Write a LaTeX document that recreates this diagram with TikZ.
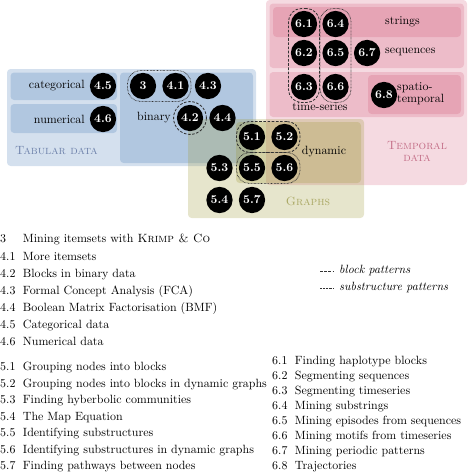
\documentclass[tikz,border=0pt]{standalone}
\usepackage{tikz}
\usetikzlibrary{positioning,fit}
\definecolor{tabBlue}{RGB}{40,100,170}
\definecolor{tempPink}{RGB}{205,70,105}
\definecolor{graphOlive}{RGB}{155,150,50}
\definecolor{tabText}{RGB}{110,130,170}
\definecolor{tempText}{RGB}{195,110,135}
\definecolor{graphText}{RGB}{170,168,100}
\definecolor{darkgray}{RGB}{50,50,50}
\newcommand{\itemline}[2]{\makebox[19pt][l]{#1}#2}

\begin{document}
\begin{tikzpicture}[x=0.837pt, y=-0.837pt,
  area/.style={fill=#1, fill opacity=0.2, rounded corners=3pt},
  num/.style={circle, fill=black, text=white, font=\bfseries,
              minimum size=22pt, inner sep=0pt},
  lbl/.style={inner sep=0pt},
  caption/.style={inner sep=0pt, text=#1, align=center},
  blockline/.style={draw=darkgray, dash pattern=on 2.2pt off 1.3pt, line width=0.7pt},
  subline/.style={draw=darkgray, dash pattern=on 0.5pt off 0.7pt, line width=0.7pt},
  blockpat/.style={blockline, rounded corners=11pt, inner sep=1.8pt},
  subpat/.style={subline, rounded corners=11pt, inner sep=1.8pt},
  listitem/.style={anchor=west, inner sep=0pt, text height=7pt, text depth=2pt},
  node distance=4.8pt
]
\useasboundingbox (0,0) rectangle (474,471);

% tabular data
\fill[area=tabBlue] (7,69) rectangle (256,166);
\fill[area=tabBlue] (10.5,72.5) rectangle (117,100);
\fill[area=tabBlue] (10.5,104) rectangle (117,133);
\fill[area=tabBlue] (120,72.5) rectangle (253,163);
\node[lbl, anchor=east] (catlbl) at (85,86) {categorical};
\node[lbl, anchor=east] (numlbl) at (85,119) {numerical};
\node[lbl] (binlbl) at (154,118) {binary};
\node[caption=tabText, anchor=west] (tabcap) at (15,151) {\textsc{Tabular data}};

% temporal data
\fill[area=tempPink] (266,0) rectangle (467,185);
\fill[area=tempPink] (269.5,3.5) rectangle (464,68);
\fill[area=tempPink] (273,7) rectangle (461,37);
\fill[area=tempPink] (269.5,72) rectangle (464,117);
\fill[area=tempPink] (368,75) rectangle (461,114);
\node[lbl, anchor=west] (strlbl) at (385,22) {strings};
\node[lbl, anchor=west] (seqlbl) at (385,52) {sequences};
\node[lbl] (tslbl) at (320,107) {time-series};
\node[lbl, anchor=west, align=left] (stlbl) at (397,94) {spatio-\\[-2pt]temporal};
\node[caption=tempText] (tempcap) at (417,151) {\textsc{Temporal}\\[-2pt]\textsc{data}};

% graphs
\fill[area=graphOlive, fill opacity=0.25] (188,119) rectangle (364,218);
\fill[area=graphOlive, fill opacity=0.25] (236,122) rectangle (361,183);
\node[lbl] (dynlbl) at (324,152) {dynamic};
\node[caption=graphText] (graphcap) at (308,201) {\textsc{Graphs}};

% chapter 4
\node[num] (c45) at (103,86) {4.5};
\node[num] (c46) at (103,119) {4.6};
\node[num] (c3) at (143,86) {3};
\node[num, right=of c3] (c41) {4.1};
\node[num, right=of c41] (c43) {4.3};
\node[num] (c42) at (190,118) {4.2};
\node[num, right=of c42] (c44) {4.4};

% chapter 5
\node[num] (c51) at (252,137) {5.1};
\node[num, right=of c51] (c52) {5.2};
\node[num] (c55) at (252,168) {5.5};
\node[num, right=of c55] (c56) {5.6};
\node[num, left=of c55] (c53) {5.3};
\node[num] (c57) at (252,200) {5.7};
\node[num, left=of c57] (c54) {5.4};

% chapter 6
\node[num] (c61) at (304,24) {6.1};
\node[num, right=4pt of c61] (c64) {6.4};
\node[num] (c62) at (304,53) {6.2};
\node[num, right=4pt of c62] (c65) {6.5};
\node[num, right=4pt of c65] (c67) {6.7};
\node[num] (c63) at (304,87) {6.3};
\node[num, right=4pt of c63] (c66) {6.6};
\node[num] (c68) at (384,95) {6.8};

% patterns
\node[subpat, fit=(c3)(c41)] (sub341) {};
\node[blockline, circle, minimum size=27.5pt, inner sep=0pt] (blk42) at (c42) {};
\node[blockpat, fit=(c51)(c52)] (blk5) {};
\node[subpat, fit=(c55)(c56)] (sub5) {};
\node[blockpat, fit=(c61)(c63)] (blk6) {};
\node[subpat, fit=(c64)(c66)] (sub6) {};

% legend
\coordinate (lgA1) at (320,271);
\coordinate (lgA2) at (333,271);
\coordinate (lgB1) at (320,288);
\coordinate (lgB2) at (333,288);
\draw[blockline] (lgA1) -- (lgA2);
\draw[subline] (lgB1) -- (lgB2);
\node[listitem, font=\itshape] (lgAtxt) at (339,271) {block patterns};
\node[listitem, font=\itshape] (lgBtxt) at (339,288) {substructure patterns};

% chapter list
\node[listitem] (t3) at (0,240) {\itemline{3}{Mining itemsets with \textsc{Krimp \& Co}}};
\node[listitem] (t41) at (0,258) {\itemline{4.1}{More itemsets}};
\node[listitem] (t42) at (0,275) {\itemline{4.2}{Blocks in binary data}};
\node[listitem] (t43) at (0,292) {\itemline{4.3}{Formal Concept Analysis (FCA)}};
\node[listitem] (t44) at (0,309) {\itemline{4.4}{Boolean Matrix Factorisation (BMF)}};
\node[listitem] (t45) at (0,326) {\itemline{4.5}{Categorical data}};
\node[listitem] (t46) at (0,343) {\itemline{4.6}{Numerical data}};
\node[listitem] (t51) at (0,368) {\itemline{5.1}{Grouping nodes into blocks}};
\node[listitem] (t52) at (0,384.5) {\itemline{5.2}{Grouping nodes into blocks in dynamic graphs}};
\node[listitem] (t53) at (0,401) {\itemline{5.3}{Finding hyberbolic communities}};
\node[listitem] (t54) at (0,417.5) {\itemline{5.4}{The Map Equation}};
\node[listitem] (t55) at (0,434) {\itemline{5.5}{Identifying substructures}};
\node[listitem] (t56) at (0,450.5) {\itemline{5.6}{Identifying substructures in dynamic graphs}};
\node[listitem] (t57) at (0,467) {\itemline{5.7}{Finding pathways between nodes}};
\node[listitem] (t61) at (272,362) {\itemline{6.1}{Finding haplotype blocks}};
\node[listitem] (t62) at (272,377) {\itemline{6.2}{Segmenting sequences}};
\node[listitem] (t63) at (272,392) {\itemline{6.3}{Segmenting timeseries}};
\node[listitem] (t64) at (272,407) {\itemline{6.4}{Mining substrings}};
\node[listitem] (t65) at (272,422) {\itemline{6.5}{Mining episodes from sequences}};
\node[listitem] (t66) at (272,437) {\itemline{6.6}{Mining motifs from timeseries}};
\node[listitem] (t67) at (272,452) {\itemline{6.7}{Mining periodic patterns}};
\node[listitem] (t68) at (272,467) {\itemline{6.8}{Trajectories}};
\end{tikzpicture}
\end{document}
